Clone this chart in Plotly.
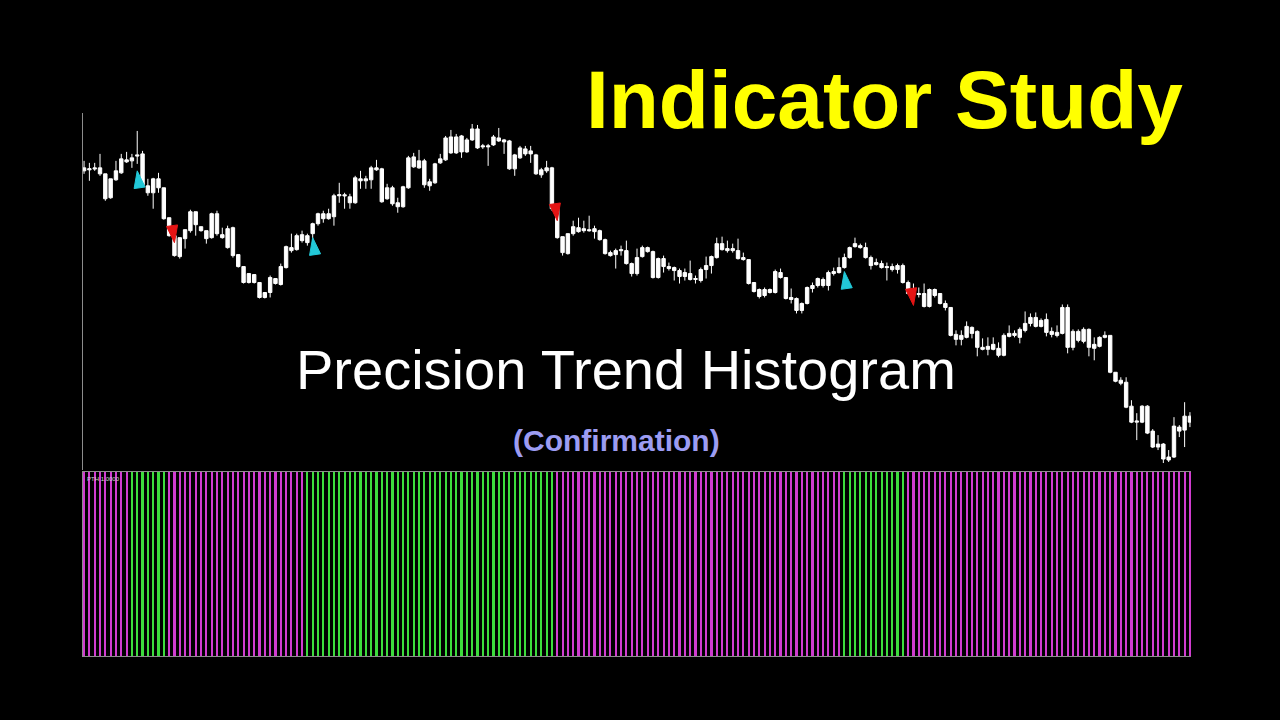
import plotly.graph_objects as go

# bar number on the chart (left to right)
bars = list(range(209))

open_ = [
    1.2803, 1.2801, 1.2803, 1.2803, 1.2797, 1.2773, 1.2791, 1.2798, 1.2809, 1.2810,
    1.2816, 1.2817, 1.2778, 1.2778, 1.2792, 1.2783, 1.2753, 1.2735, 1.2714, 1.2732,
    1.2740, 1.2759, 1.2744, 1.2732, 1.2733, 1.2757, 1.2736, 1.2742, 1.2743, 1.2716,
    1.2704, 1.2697, 1.2696, 1.2688, 1.2673, 1.2678, 1.2687, 1.2686, 1.2703, 1.2720,
    1.2721, 1.2736, 1.2728, 1.2737, 1.2747, 1.2757, 1.2752, 1.2754, 1.2775, 1.2776,
    1.2768, 1.2768, 1.2792, 1.2790, 1.2791, 1.2803, 1.2802, 1.2783, 1.2783, 1.2764,
    1.2764, 1.2783, 1.2814, 1.2810, 1.2810, 1.2785, 1.2788, 1.2808, 1.2811, 1.2818,
    1.2818, 1.2835, 1.2819, 1.2842, 1.2842, 1.2824, 1.2824, 1.2826, 1.2833, 1.2831,
    1.2830, 1.2802, 1.2813, 1.2822, 1.2820, 1.2816, 1.2796, 1.2803, 1.2803, 1.2762,
    1.2718, 1.2717, 1.2737, 1.2743, 1.2742, 1.2741, 1.2742, 1.2740, 1.2731, 1.2715,
    1.2716, 1.2721, 1.2720, 1.2697, 1.2697, 1.2714, 1.2723, 1.2719, 1.2693, 1.2712,
    1.2704, 1.2703, 1.2700, 1.2698, 1.2697, 1.2691, 1.2690, 1.2701, 1.2705, 1.2713,
    1.2727, 1.2722, 1.2722, 1.2720, 1.2713, 1.2711, 1.2688, 1.2674, 1.2675, 1.2678,
    1.2678, 1.2698, 1.2693, 1.2673, 1.2672, 1.2660, 1.2667, 1.2682, 1.2692, 1.2685,
    1.2685, 1.2697, 1.2698, 1.2703, 1.2713, 1.2727, 1.2725, 1.2723, 1.2713, 1.2708,
    1.2707, 1.2704, 1.2701, 1.2705, 1.2705, 1.2688, 1.2677, 1.2677, 1.2664, 1.2664,
    1.2681, 1.2677, 1.2667, 1.2663, 1.2636, 1.2631, 1.2633, 1.2643, 1.2639, 1.2621,
    1.2621, 1.2626, 1.2615, 1.2615, 1.2634, 1.2635, 1.2633, 1.2640, 1.2653, 1.2653,
    1.2650, 1.2651, 1.2639, 1.2635, 1.2637, 1.2663, 1.2623, 1.2630, 1.2641, 1.2641,
    1.2622, 1.2624, 1.2635, 1.2635, 1.2598, 1.2590, 1.2588, 1.2564, 1.2548, 1.2548,
    1.2564, 1.2539, 1.2526, 1.2526, 1.2510, 1.2513, 1.2539, 1.2540, 1.2548,
]
high = [
    1.2810, 1.2808, 1.2808, 1.2817, 1.2797, 1.2792, 1.2810, 1.2817, 1.2819, 1.2817,
    1.2840, 1.2820, 1.2792, 1.2793, 1.2798, 1.2783, 1.2753, 1.2735, 1.2733, 1.2741,
    1.2761, 1.2759, 1.2744, 1.2740, 1.2758, 1.2760, 1.2743, 1.2745, 1.2744, 1.2716,
    1.2704, 1.2697, 1.2696, 1.2688, 1.2678, 1.2695, 1.2692, 1.2707, 1.2725, 1.2737,
    1.2737, 1.2740, 1.2737, 1.2748, 1.2758, 1.2760, 1.2762, 1.2777, 1.2788, 1.2778,
    1.2777, 1.2795, 1.2800, 1.2795, 1.2805, 1.2811, 1.2803, 1.2787, 1.2785, 1.2773,
    1.2785, 1.2815, 1.2818, 1.2821, 1.2812, 1.2792, 1.2808, 1.2817, 1.2835, 1.2841,
    1.2837, 1.2836, 1.2833, 1.2847, 1.2846, 1.2827, 1.2827, 1.2836, 1.2843, 1.2832,
    1.2831, 1.2817, 1.2825, 1.2825, 1.2825, 1.2817, 1.2803, 1.2810, 1.2804, 1.2765,
    1.2734, 1.2737, 1.2750, 1.2753, 1.2750, 1.2755, 1.2745, 1.2741, 1.2732, 1.2720,
    1.2722, 1.2725, 1.2730, 1.2708, 1.2722, 1.2725, 1.2724, 1.2720, 1.2713, 1.2715,
    1.2708, 1.2704, 1.2702, 1.2702, 1.2710, 1.2695, 1.2703, 1.2714, 1.2715, 1.2733,
    1.2734, 1.2730, 1.2727, 1.2732, 1.2718, 1.2711, 1.2688, 1.2682, 1.2683, 1.2682,
    1.2701, 1.2702, 1.2693, 1.2682, 1.2673, 1.2668, 1.2684, 1.2688, 1.2693, 1.2693,
    1.2700, 1.2703, 1.2713, 1.2717, 1.2724, 1.2733, 1.2727, 1.2728, 1.2715, 1.2712,
    1.2710, 1.2708, 1.2707, 1.2707, 1.2707, 1.2690, 1.2687, 1.2683, 1.2687, 1.2682,
    1.2682, 1.2677, 1.2670, 1.2663, 1.2640, 1.2640, 1.2649, 1.2644, 1.2640, 1.2632,
    1.2633, 1.2633, 1.2628, 1.2637, 1.2645, 1.2640, 1.2643, 1.2659, 1.2657, 1.2658,
    1.2652, 1.2657, 1.2643, 1.2645, 1.2666, 1.2666, 1.2641, 1.2641, 1.2643, 1.2642,
    1.2633, 1.2634, 1.2639, 1.2635, 1.2598, 1.2593, 1.2593, 1.2570, 1.2557, 1.2565,
    1.2565, 1.2541, 1.2535, 1.2527, 1.2520, 1.2553, 1.2545, 1.2568, 1.2558,
]
low = [
    1.2797, 1.2790, 1.2800, 1.2795, 1.2770, 1.2772, 1.2790, 1.2797, 1.2808, 1.2803,
    1.2807, 1.2785, 1.2775, 1.2762, 1.2778, 1.2751, 1.2734, 1.2714, 1.2712, 1.2722,
    1.2738, 1.2735, 1.2739, 1.2727, 1.2732, 1.2735, 1.2732, 1.2722, 1.2713, 1.2703,
    1.2687, 1.2687, 1.2687, 1.2672, 1.2672, 1.2673, 1.2686, 1.2685, 1.2702, 1.2718,
    1.2720, 1.2728, 1.2725, 1.2725, 1.2745, 1.2748, 1.2751, 1.2745, 1.2768, 1.2762,
    1.2762, 1.2767, 1.2782, 1.2782, 1.2782, 1.2800, 1.2768, 1.2771, 1.2765, 1.2758,
    1.2763, 1.2782, 1.2803, 1.2802, 1.2783, 1.2780, 1.2787, 1.2807, 1.2810, 1.2817,
    1.2817, 1.2813, 1.2818, 1.2830, 1.2822, 1.2822, 1.2805, 1.2825, 1.2829, 1.2817,
    1.2801, 1.2795, 1.2812, 1.2815, 1.2808, 1.2796, 1.2793, 1.2798, 1.2760, 1.2732,
    1.2715, 1.2716, 1.2735, 1.2738, 1.2738, 1.2739, 1.2732, 1.2730, 1.2716, 1.2714,
    1.2702, 1.2715, 1.2706, 1.2694, 1.2695, 1.2713, 1.2718, 1.2692, 1.2692, 1.2698,
    1.2700, 1.2690, 1.2687, 1.2690, 1.2690, 1.2687, 1.2688, 1.2692, 1.2697, 1.2712,
    1.2720, 1.2718, 1.2718, 1.2711, 1.2710, 1.2686, 1.2678, 1.2672, 1.2673, 1.2677,
    1.2677, 1.2692, 1.2671, 1.2667, 1.2657, 1.2657, 1.2666, 1.2678, 1.2683, 1.2683,
    1.2680, 1.2695, 1.2697, 1.2702, 1.2712, 1.2723, 1.2722, 1.2712, 1.2701, 1.2705,
    1.2702, 1.2690, 1.2699, 1.2697, 1.2687, 1.2676, 1.2675, 1.2673, 1.2663, 1.2663,
    1.2673, 1.2666, 1.2660, 1.2634, 1.2625, 1.2625, 1.2632, 1.2632, 1.2614, 1.2620,
    1.2615, 1.2620, 1.2613, 1.2614, 1.2633, 1.2633, 1.2627, 1.2638, 1.2644, 1.2643,
    1.2643, 1.2634, 1.2633, 1.2633, 1.2636, 1.2617, 1.2620, 1.2628, 1.2627, 1.2614,
    1.2610, 1.2623, 1.2632, 1.2597, 1.2588, 1.2585, 1.2562, 1.2547, 1.2530, 1.2547,
    1.2536, 1.2522, 1.2520, 1.2507, 1.2508, 1.2512, 1.2533, 1.2523, 1.2543,
]
close = [
    1.2800, 1.2802, 1.2802, 1.2797, 1.2772, 1.2792, 1.2800, 1.2812, 1.2811, 1.2813,
    1.2815, 1.2786, 1.2785, 1.2792, 1.2783, 1.2752, 1.2735, 1.2715, 1.2733, 1.2741,
    1.2759, 1.2746, 1.2740, 1.2740, 1.2757, 1.2737, 1.2733, 1.2723, 1.2715, 1.2704,
    1.2688, 1.2688, 1.2688, 1.2673, 1.2678, 1.2693, 1.2692, 1.2704, 1.2724, 1.2723,
    1.2735, 1.2730, 1.2735, 1.2747, 1.2757, 1.2752, 1.2757, 1.2775, 1.2776, 1.2775,
    1.2774, 1.2793, 1.2790, 1.2792, 1.2803, 1.2801, 1.2769, 1.2772, 1.2767, 1.2768,
    1.2784, 1.2813, 1.2804, 1.2803, 1.2786, 1.2789, 1.2807, 1.2812, 1.2833, 1.2834,
    1.2834, 1.2819, 1.2831, 1.2831, 1.2823, 1.2825, 1.2825, 1.2834, 1.2830, 1.2829,
    1.2802, 1.2816, 1.2823, 1.2817, 1.2817, 1.2797, 1.2801, 1.2800, 1.2762, 1.2733,
    1.2734, 1.2737, 1.2744, 1.2739, 1.2740, 1.2740, 1.2739, 1.2731, 1.2717, 1.2718,
    1.2720, 1.2720, 1.2707, 1.2707, 1.2713, 1.2723, 1.2719, 1.2693, 1.2712, 1.2704,
    1.2702, 1.2700, 1.2694, 1.2694, 1.2691, 1.2692, 1.2701, 1.2705, 1.2714, 1.2727,
    1.2721, 1.2720, 1.2720, 1.2712, 1.2711, 1.2687, 1.2679, 1.2681, 1.2681, 1.2681,
    1.2699, 1.2693, 1.2672, 1.2671, 1.2660, 1.2667, 1.2683, 1.2685, 1.2685, 1.2691,
    1.2698, 1.2699, 1.2703, 1.2713, 1.2723, 1.2724, 1.2723, 1.2713, 1.2705, 1.2706,
    1.2703, 1.2703, 1.2704, 1.2701, 1.2688, 1.2677, 1.2676, 1.2676, 1.2677, 1.2681,
    1.2675, 1.2667, 1.2663, 1.2635, 1.2631, 1.2635, 1.2644, 1.2637, 1.2623, 1.2623,
    1.2624, 1.2621, 1.2622, 1.2635, 1.2637, 1.2637, 1.2641, 1.2647, 1.2647, 1.2644,
    1.2644, 1.2638, 1.2636, 1.2638, 1.2663, 1.2623, 1.2639, 1.2639, 1.2629, 1.2623,
    1.2626, 1.2633, 1.2633, 1.2598, 1.2589, 1.2587, 1.2563, 1.2548, 1.2549, 1.2564,
    1.2537, 1.2523, 1.2523, 1.2511, 1.2513, 1.2544, 1.2543, 1.2554, 1.2554,
]

# signal arrows
buy_bars = [10, 43, 143]
buy_price = [1.2800, 1.2733, 1.2699]
sell_bars = [17, 89, 156]
sell_price = [1.2728, 1.2750, 1.2665]

# Precision Trend Histogram: every bar reads 1.0000, green while trend is up
pth = [1.0] * len(bars)
up_runs = [(9, 15), (42, 88), (143, 154)]

BG = "#000000"
CANDLE = "#FFFFFF"
CYAN = "#22C8D8"
RED = "#E41414"
MAGENTA = "#D03CD0"
GREEN = "#3CDC3C"
FRAME = "#8C8C8C"

pth_colors = []
for b in bars:
    up = any(a <= b <= z for a, z in up_runs)
    pth_colors.append(GREEN if up else MAGENTA)

X_DOM = [83 / 1280, 1191 / 1280]
X_RANGE = [-0.2, 208.2]

fig = go.Figure()

fig.add_trace(go.Candlestick(
    x=bars, open=open_, high=high, low=low, close=close,
    increasing=dict(line=dict(color=CANDLE, width=1), fillcolor=CANDLE),
    decreasing=dict(line=dict(color=CANDLE, width=1), fillcolor=CANDLE),
    whiskerwidth=0,
    showlegend=False,
    xaxis="x", yaxis="y",
))

fig.add_trace(go.Scatter(
    x=buy_bars, y=buy_price, mode="markers",
    marker=dict(symbol="arrow", size=18, color=CYAN, angle=-8,
                line=dict(color=CYAN, width=1)),
    showlegend=False, xaxis="x", yaxis="y",
))
fig.add_trace(go.Scatter(
    x=sell_bars, y=sell_price, mode="markers",
    marker=dict(symbol="arrow", size=18, color=RED, angle=172,
                line=dict(color=RED, width=1)),
    showlegend=False, xaxis="x", yaxis="y",
))

fig.add_trace(go.Bar(
    x=bars, y=pth, width=0.4,
    marker=dict(color=pth_colors, line=dict(width=0)),
    showlegend=False, xaxis="x2", yaxis="y2",
))

fig.update_layout(
    width=1280, height=720,
    margin=dict(l=0, r=0, t=0, b=0),
    paper_bgcolor=BG, plot_bgcolor=BG,
    font=dict(family="Arial, Liberation Sans, sans-serif", color="#FFFFFF"),
    showlegend=False,
    boxgap=0.2, boxgroupgap=0.2,
    xaxis=dict(domain=X_DOM, range=X_RANGE, visible=False,
               rangeslider=dict(visible=False)),
    yaxis=dict(domain=[250 / 720, 607 / 720], range=[1.2500, 1.2858],
               showgrid=False, zeroline=False, showticklabels=False,
               showline=True, linecolor=FRAME, linewidth=1),
    xaxis2=dict(domain=X_DOM, range=X_RANGE, anchor="y2",
                showgrid=False, zeroline=False, showticklabels=False,
                showline=True, mirror=True, linecolor=FRAME, linewidth=1),
    yaxis2=dict(domain=[64 / 720, 248 / 720], range=[0, 1], anchor="x2",
                showgrid=False, zeroline=False, showticklabels=False,
                showline=True, linecolor=FRAME, linewidth=1),
    bargap=0,
)

fig.add_annotation(
    text="<b>Indicator Study</b>", xref="paper", yref="paper",
    x=884 / 1280, y=1 - 100 / 720, xanchor="center", yanchor="middle",
    showarrow=False, font=dict(size=82, color="#FFFF00"),
)
fig.add_annotation(
    text="Precision Trend Histogram", xref="paper", yref="paper",
    x=626 / 1280, y=1 - 370 / 720, xanchor="center", yanchor="middle",
    showarrow=False, font=dict(size=56, color="#FFFFFF"),
)
fig.add_annotation(
    text="<b>(Confirmation)</b>", xref="paper", yref="paper",
    x=616 / 1280, y=1 - 440 / 720, xanchor="center", yanchor="middle",
    showarrow=False, font=dict(size=30, color="#9C9CF2"),
)
fig.add_annotation(
    text="PTH 1.0000", xref="paper", yref="paper",
    x=85 / 1280, y=1 - 479 / 720, xanchor="left", yanchor="middle",
    showarrow=False, font=dict(size=6, color="#D0D0D0"),
)

fig.write_html(
    "out.html",
    config={"displayModeBar": False},
    post_script="document.body.style.margin='0';document.body.style.background='#000';",
)
